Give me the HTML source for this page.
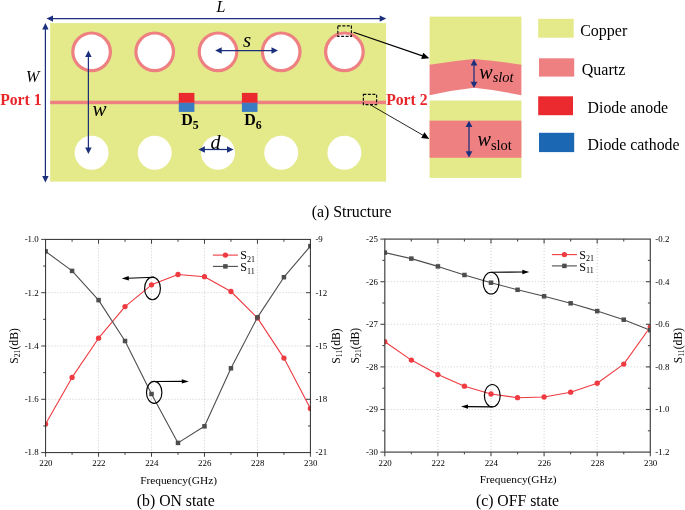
<!DOCTYPE html>
<html><head><meta charset="utf-8"><title>Figure</title>
<style>
html,body{margin:0;padding:0;background:#fff;}
svg{display:block;font-family:'Liberation Serif', 'DejaVu Serif', serif;}
</style></head>
<body>
<svg width="685" height="510" viewBox="0 0 685 510" font-family='"Liberation Serif", "DejaVu Serif", serif'>
<rect width="685" height="510" fill="#fff"/>
<rect x="50.2" y="23.1" width="335.90" height="158.50" fill="#e4e98a"/>
<rect x="50.2" y="100.7" width="335.90" height="3.5" fill="#ee8082"/>
<circle cx="91.6" cy="51.8" r="20.4" fill="#ee8082"/><circle cx="91.6" cy="51.8" r="17.2" fill="#fff"/>
<circle cx="91.6" cy="152.7" r="17" fill="#fff"/>
<circle cx="154.7" cy="51.8" r="20.4" fill="#ee8082"/><circle cx="154.7" cy="51.8" r="17.2" fill="#fff"/>
<circle cx="154.7" cy="152.7" r="17" fill="#fff"/>
<circle cx="218.0" cy="51.8" r="20.4" fill="#ee8082"/><circle cx="218.0" cy="51.8" r="17.2" fill="#fff"/>
<circle cx="218.0" cy="152.7" r="17" fill="#fff"/>
<circle cx="281.2" cy="51.8" r="20.4" fill="#ee8082"/><circle cx="281.2" cy="51.8" r="17.2" fill="#fff"/>
<circle cx="281.2" cy="152.7" r="17" fill="#fff"/>
<circle cx="344.4" cy="51.8" r="20.4" fill="#ee8082"/><circle cx="344.4" cy="51.8" r="17.2" fill="#fff"/>
<circle cx="344.4" cy="152.7" r="17" fill="#fff"/>
<rect x="178.8" y="92.9" width="15.6" height="9.9" fill="#ea2a2e"/>
<rect x="178.8" y="102.8" width="15.6" height="9.1" fill="#3a7cc4"/>
<rect x="241.9" y="92.9" width="15.6" height="9.9" fill="#ea2a2e"/>
<rect x="241.9" y="102.8" width="15.6" height="9.1" fill="#3a7cc4"/>
<text x="181.30" y="125.30" font-size="16" font-weight="bold">D<tspan font-size="11.8" dy="3.6">5</tspan></text>
<text x="244.30" y="125.30" font-size="16" font-weight="bold">D<tspan font-size="11.8" dy="3.6">6</tspan></text>
<line x1="52.00" y1="18.60" x2="380.70" y2="18.60" stroke="#1b2f7c" stroke-width="1.25"/><polygon points="46.50,18.60 53.00,15.40 53.00,21.80" fill="#1b2f7c"/><polygon points="386.20,18.60 379.70,15.40 379.70,21.80" fill="#1b2f7c"/>
<line x1="45.40" y1="28.50" x2="45.40" y2="176.90" stroke="#1b2f7c" stroke-width="1.25"/><polygon points="45.40,23.00 42.20,29.50 48.60,29.50" fill="#1b2f7c"/><polygon points="45.40,182.40 42.20,175.90 48.60,175.90" fill="#1b2f7c"/>
<line x1="220.70" y1="50.50" x2="272.50" y2="50.50" stroke="#1b2f7c" stroke-width="1.25"/><polygon points="215.20,50.50 221.70,47.30 221.70,53.70" fill="#1b2f7c"/><polygon points="278.00,50.50 271.50,47.30 271.50,53.70" fill="#1b2f7c"/>
<line x1="88.40" y1="55.90" x2="88.40" y2="148.50" stroke="#1b2f7c" stroke-width="1.25"/><polygon points="88.40,50.40 85.20,56.90 91.60,56.90" fill="#1b2f7c"/><polygon points="88.40,154.00 85.20,147.50 91.60,147.50" fill="#1b2f7c"/>
<line x1="203.90" y1="149.50" x2="228.00" y2="149.50" stroke="#1b2f7c" stroke-width="1.25"/><polygon points="198.40,149.50 204.90,146.30 204.90,152.70" fill="#1b2f7c"/><polygon points="233.50,149.50 227.00,146.30 227.00,152.70" fill="#1b2f7c"/>
<text x="216.50" y="11.50" font-size="16" font-style="italic">L</text>
<text x="26.00" y="82.30" font-size="16" font-style="italic">W</text>
<text x="243.00" y="47.20" font-size="21" font-style="italic">s</text>
<text x="92.50" y="116.30" font-size="21" font-style="italic">w</text>
<text x="210.50" y="148.50" font-size="20" font-style="italic">d</text>
<text x="0.20" y="104.70" font-size="15.7" font-weight="bold" fill="#e8262a">Port 1</text>
<text x="386.20" y="104.70" font-size="15.7" font-weight="bold" fill="#e8262a">Port 2</text>
<rect x="337.8" y="25.8" width="13.6" height="10.6" fill="none" stroke="#111" stroke-width="1.2" stroke-dasharray="3 1.5"/>
<rect x="363.4" y="94.4" width="13.2" height="10.2" fill="none" stroke="#111" stroke-width="1.2" stroke-dasharray="3 1.5"/>
<line x1="353.50" y1="32.20" x2="423.15" y2="56.18" stroke="#000" stroke-width="1.2"/><polygon points="429.30,58.30 421.17,58.88 423.25,52.83" fill="#000"/>
<line x1="370.30" y1="104.80" x2="423.67" y2="135.65" stroke="#000" stroke-width="0.85"/><polygon points="429.30,138.90 421.16,138.00 424.46,132.29" fill="#000"/>
<rect x="429.6" y="16.6" width="91.80" height="50" fill="#e4e98a"/>
<path d="M429.6,64.8 Q451.8,61 474,59 Q497.7,61 521.4,64.8 L521.4,95.3 Q497.7,90.2 474,87.8 Q451.8,90.2 429.6,95.3 Z" fill="#ee8082"/>
<line x1="474.00" y1="64.50" x2="474.00" y2="82.70" stroke="#1b2f7c" stroke-width="1.25"/><polygon points="474.00,59.20 470.60,65.50 477.40,65.50" fill="#1b2f7c"/><polygon points="474.00,88.00 470.60,81.70 477.40,81.70" fill="#1b2f7c"/>
<text x="479.30" y="79.20" font-size="20" font-style="italic">w<tspan font-size="14.5" dy="3.2">slot</tspan></text>
<rect x="429.6" y="100.5" width="91.80" height="77.4" fill="#e4e98a"/>
<rect x="429.6" y="120.6" width="91.80" height="37.2" fill="#ee8082"/>
<line x1="469.00" y1="126.10" x2="469.00" y2="152.30" stroke="#1b2f7c" stroke-width="1.25"/><polygon points="469.00,120.80 465.60,127.10 472.40,127.10" fill="#1b2f7c"/><polygon points="469.00,157.60 465.60,151.30 472.40,151.30" fill="#1b2f7c"/>
<text x="477.60" y="145.80" font-size="20"><tspan font-style="italic">w</tspan><tspan font-size="14.5" dy="4">slot</tspan></text>
<rect x="538.2" y="18.8" width="35.50" height="18.90" fill="#e4e98a"/>
<rect x="539.0" y="58.3" width="35.20" height="18.30" fill="#ee8082"/>
<rect x="538.2" y="96.3" width="34.80" height="18.90" fill="#ea2a2e"/>
<rect x="539.0" y="132.8" width="35.20" height="19.30" fill="#1c67b4"/>
<text x="580.20" y="35.60" font-size="16.0">Copper</text>
<text x="581.80" y="74.60" font-size="16.0">Quartz</text>
<text x="587.60" y="113.20" font-size="15.85">Diode anode</text>
<text x="587.60" y="149.60" font-size="15.85">Diode cathode</text>
<text x="351.60" y="217.20" font-size="15.9" text-anchor="middle">(a) Structure</text>
<line x1="98.56" y1="239.4" x2="98.56" y2="452.6" stroke="#b0b0b0" stroke-width="0.7" stroke-dasharray="0.9 2.1"/>
<line x1="151.52" y1="239.4" x2="151.52" y2="452.6" stroke="#b0b0b0" stroke-width="0.7" stroke-dasharray="0.9 2.1"/>
<line x1="204.48" y1="239.4" x2="204.48" y2="452.6" stroke="#b0b0b0" stroke-width="0.7" stroke-dasharray="0.9 2.1"/>
<line x1="257.44" y1="239.4" x2="257.44" y2="452.6" stroke="#b0b0b0" stroke-width="0.7" stroke-dasharray="0.9 2.1"/>
<line x1="45.6" y1="292.70" x2="310.4" y2="292.70" stroke="#b0b0b0" stroke-width="0.7" stroke-dasharray="0.9 2.1"/>
<line x1="45.6" y1="346.00" x2="310.4" y2="346.00" stroke="#b0b0b0" stroke-width="0.7" stroke-dasharray="0.9 2.1"/>
<line x1="45.6" y1="399.30" x2="310.4" y2="399.30" stroke="#b0b0b0" stroke-width="0.7" stroke-dasharray="0.9 2.1"/>
<clipPath id="cp45"><rect x="45.0" y="236.4" width="266.00" height="219.20"/></clipPath>
<g clip-path="url(#cp45)">
<polyline points="45.60,424.10 72.08,377.40 98.56,338.20 125.04,306.60 151.52,284.80 178.00,274.50 204.48,276.70 230.96,291.50 257.44,317.90 283.92,358.10 310.40,408.50" fill="none" stroke="#ee3a40" stroke-width="1.1" stroke-linejoin="round"/><circle cx="45.60" cy="424.10" r="2.65" fill="#ee3a40"/><circle cx="72.08" cy="377.40" r="2.65" fill="#ee3a40"/><circle cx="98.56" cy="338.20" r="2.65" fill="#ee3a40"/><circle cx="125.04" cy="306.60" r="2.65" fill="#ee3a40"/><circle cx="151.52" cy="284.80" r="2.65" fill="#ee3a40"/><circle cx="178.00" cy="274.50" r="2.65" fill="#ee3a40"/><circle cx="204.48" cy="276.70" r="2.65" fill="#ee3a40"/><circle cx="230.96" cy="291.50" r="2.65" fill="#ee3a40"/><circle cx="257.44" cy="317.90" r="2.65" fill="#ee3a40"/><circle cx="283.92" cy="358.10" r="2.65" fill="#ee3a40"/><circle cx="310.40" cy="408.50" r="2.65" fill="#ee3a40"/>
<polyline points="45.60,251.40 72.08,270.90 98.56,300.10 125.04,341.00 151.52,394.00 178.00,442.90 204.48,426.30 230.96,368.30 257.44,317.40 283.92,277.20 310.40,246.10" fill="none" stroke="#4d4d4d" stroke-width="1.1" stroke-linejoin="round"/><rect x="43.35" y="249.15" width="4.5" height="4.5" fill="#4d4d4d"/><rect x="69.83" y="268.65" width="4.5" height="4.5" fill="#4d4d4d"/><rect x="96.31" y="297.85" width="4.5" height="4.5" fill="#4d4d4d"/><rect x="122.79" y="338.75" width="4.5" height="4.5" fill="#4d4d4d"/><rect x="149.27" y="391.75" width="4.5" height="4.5" fill="#4d4d4d"/><rect x="175.75" y="440.65" width="4.5" height="4.5" fill="#4d4d4d"/><rect x="202.23" y="424.05" width="4.5" height="4.5" fill="#4d4d4d"/><rect x="228.71" y="366.05" width="4.5" height="4.5" fill="#4d4d4d"/><rect x="255.19" y="315.15" width="4.5" height="4.5" fill="#4d4d4d"/><rect x="281.67" y="274.95" width="4.5" height="4.5" fill="#4d4d4d"/><rect x="308.15" y="243.85" width="4.5" height="4.5" fill="#4d4d4d"/>
</g>
<rect x="45.6" y="239.4" width="264.80" height="213.20" fill="none" stroke="#2b2b2b" stroke-width="1.0"/>
<line x1="45.60" y1="452.6" x2="45.60" y2="456.80" stroke="#2b2b2b" stroke-width="0.90"/>
<text x="45.90" y="466.30" font-size="8.9" text-anchor="middle">220</text>
<line x1="72.08" y1="452.6" x2="72.08" y2="454.80" stroke="#2b2b2b" stroke-width="0.90"/>
<line x1="72.08" y1="239.4" x2="72.08" y2="241.8" stroke="#2b2b2b" stroke-width="0.90"/>
<line x1="98.56" y1="452.6" x2="98.56" y2="456.80" stroke="#2b2b2b" stroke-width="0.90"/>
<line x1="98.56" y1="239.4" x2="98.56" y2="243.8" stroke="#2b2b2b" stroke-width="0.90"/>
<text x="98.86" y="466.30" font-size="8.9" text-anchor="middle">222</text>
<line x1="125.04" y1="452.6" x2="125.04" y2="454.80" stroke="#2b2b2b" stroke-width="0.90"/>
<line x1="125.04" y1="239.4" x2="125.04" y2="241.8" stroke="#2b2b2b" stroke-width="0.90"/>
<line x1="151.52" y1="452.6" x2="151.52" y2="456.80" stroke="#2b2b2b" stroke-width="0.90"/>
<line x1="151.52" y1="239.4" x2="151.52" y2="243.8" stroke="#2b2b2b" stroke-width="0.90"/>
<text x="151.82" y="466.30" font-size="8.9" text-anchor="middle">224</text>
<line x1="178.00" y1="452.6" x2="178.00" y2="454.80" stroke="#2b2b2b" stroke-width="0.90"/>
<line x1="178.00" y1="239.4" x2="178.00" y2="241.8" stroke="#2b2b2b" stroke-width="0.90"/>
<line x1="204.48" y1="452.6" x2="204.48" y2="456.80" stroke="#2b2b2b" stroke-width="0.90"/>
<line x1="204.48" y1="239.4" x2="204.48" y2="243.8" stroke="#2b2b2b" stroke-width="0.90"/>
<text x="204.78" y="466.30" font-size="8.9" text-anchor="middle">226</text>
<line x1="230.96" y1="452.6" x2="230.96" y2="454.80" stroke="#2b2b2b" stroke-width="0.90"/>
<line x1="230.96" y1="239.4" x2="230.96" y2="241.8" stroke="#2b2b2b" stroke-width="0.90"/>
<line x1="257.44" y1="452.6" x2="257.44" y2="456.80" stroke="#2b2b2b" stroke-width="0.90"/>
<line x1="257.44" y1="239.4" x2="257.44" y2="243.8" stroke="#2b2b2b" stroke-width="0.90"/>
<text x="257.74" y="466.30" font-size="8.9" text-anchor="middle">228</text>
<line x1="283.92" y1="452.6" x2="283.92" y2="454.80" stroke="#2b2b2b" stroke-width="0.90"/>
<line x1="283.92" y1="239.4" x2="283.92" y2="241.8" stroke="#2b2b2b" stroke-width="0.90"/>
<line x1="310.40" y1="452.6" x2="310.40" y2="456.80" stroke="#2b2b2b" stroke-width="0.90"/>
<text x="310.70" y="466.30" font-size="8.9" text-anchor="middle">230</text>
<line x1="45.6" y1="239.40" x2="41.2" y2="239.40" stroke="#2b2b2b" stroke-width="0.90"/>
<text x="38.70" y="242.20" font-size="8.9" text-anchor="end">-1.0</text>
<text x="315.40" y="242.20" font-size="8.9">-9</text>
<line x1="45.6" y1="266.05" x2="43.2" y2="266.05" stroke="#2b2b2b" stroke-width="0.90"/>
<line x1="310.4" y1="266.05" x2="308.0" y2="266.05" stroke="#2b2b2b" stroke-width="0.90"/>
<line x1="45.6" y1="292.70" x2="41.2" y2="292.70" stroke="#2b2b2b" stroke-width="0.90"/>
<line x1="310.4" y1="292.70" x2="306.0" y2="292.70" stroke="#2b2b2b" stroke-width="0.90"/>
<text x="38.70" y="295.50" font-size="8.9" text-anchor="end">-1.2</text>
<text x="315.40" y="295.50" font-size="8.9">-12</text>
<line x1="45.6" y1="319.35" x2="43.2" y2="319.35" stroke="#2b2b2b" stroke-width="0.90"/>
<line x1="310.4" y1="319.35" x2="308.0" y2="319.35" stroke="#2b2b2b" stroke-width="0.90"/>
<line x1="45.6" y1="346.00" x2="41.2" y2="346.00" stroke="#2b2b2b" stroke-width="0.90"/>
<line x1="310.4" y1="346.00" x2="306.0" y2="346.00" stroke="#2b2b2b" stroke-width="0.90"/>
<text x="38.70" y="348.80" font-size="8.9" text-anchor="end">-1.4</text>
<text x="315.40" y="348.80" font-size="8.9">-15</text>
<line x1="45.6" y1="372.65" x2="43.2" y2="372.65" stroke="#2b2b2b" stroke-width="0.90"/>
<line x1="310.4" y1="372.65" x2="308.0" y2="372.65" stroke="#2b2b2b" stroke-width="0.90"/>
<line x1="45.6" y1="399.30" x2="41.2" y2="399.30" stroke="#2b2b2b" stroke-width="0.90"/>
<line x1="310.4" y1="399.30" x2="306.0" y2="399.30" stroke="#2b2b2b" stroke-width="0.90"/>
<text x="38.70" y="402.10" font-size="8.9" text-anchor="end">-1.6</text>
<text x="315.40" y="402.10" font-size="8.9">-18</text>
<line x1="45.6" y1="425.95" x2="43.2" y2="425.95" stroke="#2b2b2b" stroke-width="0.90"/>
<line x1="310.4" y1="425.95" x2="308.0" y2="425.95" stroke="#2b2b2b" stroke-width="0.90"/>
<line x1="45.6" y1="452.60" x2="41.2" y2="452.60" stroke="#2b2b2b" stroke-width="0.90"/>
<text x="38.70" y="455.40" font-size="8.9" text-anchor="end">-1.8</text>
<text x="315.40" y="455.40" font-size="8.9">-21</text>
<text transform="translate(17.60,346.00) rotate(-90)" font-size="11.7" text-anchor="middle">S<tspan font-size="7.7" dy="2.3">21</tspan><tspan dy="-2.3">(dB)</tspan></text>
<text transform="translate(339.70,346.00) rotate(-90)" font-size="11.7" text-anchor="middle">S<tspan font-size="7.7" dy="2.3">11</tspan><tspan dy="-2.3">(dB)</tspan></text>
<text x="178.60" y="483.90" font-size="11.35" text-anchor="middle">Frequency(GHz)</text>
<line x1="212.9" y1="255.1" x2="237.9" y2="255.1" stroke="#ee3a40" stroke-width="1.1"/><circle cx="225.4" cy="255.1" r="2.65" fill="#ee3a40"/>
<line x1="212.9" y1="266.4" x2="237.9" y2="266.4" stroke="#4d4d4d" stroke-width="1.1"/><rect x="223.15" y="264.15" width="4.5" height="4.5" fill="#4d4d4d"/>
<text x="240.30" y="259.00" font-size="12">S<tspan font-size="8" dy="2.6">21</tspan></text>
<text x="240.30" y="271.10" font-size="12">S<tspan font-size="8" dy="2.6">11</tspan></text>
<ellipse cx="152.5" cy="288.4" rx="7.9" ry="11.3" fill="none" stroke="#000" stroke-width="1.15"/>
<line x1="154.00" y1="277.20" x2="127.80" y2="278.26" stroke="#000" stroke-width="1.15"/><polygon points="121.80,278.50 128.71,276.02 128.88,280.42" fill="#000"/>
<ellipse cx="154.2" cy="392.4" rx="7.7" ry="11.0" fill="none" stroke="#000" stroke-width="1.15"/>
<line x1="154.50" y1="381.50" x2="182.80" y2="381.42" stroke="#000" stroke-width="1.15"/><polygon points="188.80,381.40 181.81,383.62 181.79,379.22" fill="#000"/>
<text x="175.80" y="505.60" font-size="15.75" text-anchor="middle">(b) ON state</text>
<line x1="437.90" y1="239.1" x2="437.90" y2="452.1" stroke="#b0b0b0" stroke-width="0.7" stroke-dasharray="0.9 2.1"/>
<line x1="491.00" y1="239.1" x2="491.00" y2="452.1" stroke="#b0b0b0" stroke-width="0.7" stroke-dasharray="0.9 2.1"/>
<line x1="544.10" y1="239.1" x2="544.10" y2="452.1" stroke="#b0b0b0" stroke-width="0.7" stroke-dasharray="0.9 2.1"/>
<line x1="597.20" y1="239.1" x2="597.20" y2="452.1" stroke="#b0b0b0" stroke-width="0.7" stroke-dasharray="0.9 2.1"/>
<line x1="384.8" y1="281.70" x2="650.3" y2="281.70" stroke="#b0b0b0" stroke-width="0.7" stroke-dasharray="0.9 2.1"/>
<line x1="384.8" y1="324.30" x2="650.3" y2="324.30" stroke="#b0b0b0" stroke-width="0.7" stroke-dasharray="0.9 2.1"/>
<line x1="384.8" y1="366.90" x2="650.3" y2="366.90" stroke="#b0b0b0" stroke-width="0.7" stroke-dasharray="0.9 2.1"/>
<line x1="384.8" y1="409.50" x2="650.3" y2="409.50" stroke="#b0b0b0" stroke-width="0.7" stroke-dasharray="0.9 2.1"/>
<clipPath id="cp384"><rect x="384.2" y="236.1" width="266.70" height="219.00"/></clipPath>
<g clip-path="url(#cp384)">
<polyline points="384.80,341.70 411.35,360.10 437.90,374.60 464.45,386.20 491.00,394.00 517.55,397.70 544.10,397.00 570.65,392.20 597.20,383.20 623.75,364.10 650.30,327.00" fill="none" stroke="#ee3a40" stroke-width="1.1" stroke-linejoin="round"/><circle cx="384.80" cy="341.70" r="2.65" fill="#ee3a40"/><circle cx="411.35" cy="360.10" r="2.65" fill="#ee3a40"/><circle cx="437.90" cy="374.60" r="2.65" fill="#ee3a40"/><circle cx="464.45" cy="386.20" r="2.65" fill="#ee3a40"/><circle cx="491.00" cy="394.00" r="2.65" fill="#ee3a40"/><circle cx="517.55" cy="397.70" r="2.65" fill="#ee3a40"/><circle cx="544.10" cy="397.00" r="2.65" fill="#ee3a40"/><circle cx="570.65" cy="392.20" r="2.65" fill="#ee3a40"/><circle cx="597.20" cy="383.20" r="2.65" fill="#ee3a40"/><circle cx="623.75" cy="364.10" r="2.65" fill="#ee3a40"/><circle cx="650.30" cy="327.00" r="2.65" fill="#ee3a40"/>
<polyline points="384.80,252.60 411.35,258.60 437.90,266.40 464.45,275.00 491.00,282.70 517.55,289.80 544.10,296.30 570.65,303.30 597.20,311.10 623.75,319.70 650.30,330.20" fill="none" stroke="#4d4d4d" stroke-width="1.1" stroke-linejoin="round"/><rect x="382.55" y="250.35" width="4.5" height="4.5" fill="#4d4d4d"/><rect x="409.10" y="256.35" width="4.5" height="4.5" fill="#4d4d4d"/><rect x="435.65" y="264.15" width="4.5" height="4.5" fill="#4d4d4d"/><rect x="462.20" y="272.75" width="4.5" height="4.5" fill="#4d4d4d"/><rect x="488.75" y="280.45" width="4.5" height="4.5" fill="#4d4d4d"/><rect x="515.30" y="287.55" width="4.5" height="4.5" fill="#4d4d4d"/><rect x="541.85" y="294.05" width="4.5" height="4.5" fill="#4d4d4d"/><rect x="568.40" y="301.05" width="4.5" height="4.5" fill="#4d4d4d"/><rect x="594.95" y="308.85" width="4.5" height="4.5" fill="#4d4d4d"/><rect x="621.50" y="317.45" width="4.5" height="4.5" fill="#4d4d4d"/><rect x="648.05" y="327.95" width="4.5" height="4.5" fill="#4d4d4d"/>
</g>
<rect x="384.8" y="239.1" width="265.50" height="213.00" fill="none" stroke="#4a4a4a" stroke-width="1.25"/>
<line x1="384.80" y1="452.1" x2="384.80" y2="456.30" stroke="#4a4a4a" stroke-width="1.12"/>
<text x="385.10" y="465.80" font-size="8.9" text-anchor="middle">220</text>
<line x1="411.35" y1="452.1" x2="411.35" y2="454.30" stroke="#4a4a4a" stroke-width="1.12"/>
<line x1="411.35" y1="239.1" x2="411.35" y2="241.5" stroke="#4a4a4a" stroke-width="1.12"/>
<line x1="437.90" y1="452.1" x2="437.90" y2="456.30" stroke="#4a4a4a" stroke-width="1.12"/>
<line x1="437.90" y1="239.1" x2="437.90" y2="243.5" stroke="#4a4a4a" stroke-width="1.12"/>
<text x="438.20" y="465.80" font-size="8.9" text-anchor="middle">222</text>
<line x1="464.45" y1="452.1" x2="464.45" y2="454.30" stroke="#4a4a4a" stroke-width="1.12"/>
<line x1="464.45" y1="239.1" x2="464.45" y2="241.5" stroke="#4a4a4a" stroke-width="1.12"/>
<line x1="491.00" y1="452.1" x2="491.00" y2="456.30" stroke="#4a4a4a" stroke-width="1.12"/>
<line x1="491.00" y1="239.1" x2="491.00" y2="243.5" stroke="#4a4a4a" stroke-width="1.12"/>
<text x="491.30" y="465.80" font-size="8.9" text-anchor="middle">224</text>
<line x1="517.55" y1="452.1" x2="517.55" y2="454.30" stroke="#4a4a4a" stroke-width="1.12"/>
<line x1="517.55" y1="239.1" x2="517.55" y2="241.5" stroke="#4a4a4a" stroke-width="1.12"/>
<line x1="544.10" y1="452.1" x2="544.10" y2="456.30" stroke="#4a4a4a" stroke-width="1.12"/>
<line x1="544.10" y1="239.1" x2="544.10" y2="243.5" stroke="#4a4a4a" stroke-width="1.12"/>
<text x="544.40" y="465.80" font-size="8.9" text-anchor="middle">226</text>
<line x1="570.65" y1="452.1" x2="570.65" y2="454.30" stroke="#4a4a4a" stroke-width="1.12"/>
<line x1="570.65" y1="239.1" x2="570.65" y2="241.5" stroke="#4a4a4a" stroke-width="1.12"/>
<line x1="597.20" y1="452.1" x2="597.20" y2="456.30" stroke="#4a4a4a" stroke-width="1.12"/>
<line x1="597.20" y1="239.1" x2="597.20" y2="243.5" stroke="#4a4a4a" stroke-width="1.12"/>
<text x="597.50" y="465.80" font-size="8.9" text-anchor="middle">228</text>
<line x1="623.75" y1="452.1" x2="623.75" y2="454.30" stroke="#4a4a4a" stroke-width="1.12"/>
<line x1="623.75" y1="239.1" x2="623.75" y2="241.5" stroke="#4a4a4a" stroke-width="1.12"/>
<line x1="650.30" y1="452.1" x2="650.30" y2="456.30" stroke="#4a4a4a" stroke-width="1.12"/>
<text x="650.60" y="465.80" font-size="8.9" text-anchor="middle">230</text>
<line x1="384.8" y1="239.10" x2="380.40000000000003" y2="239.10" stroke="#4a4a4a" stroke-width="1.12"/>
<text x="377.90" y="241.90" font-size="8.9" text-anchor="end">-25</text>
<text x="655.30" y="241.90" font-size="8.9">-0.2</text>
<line x1="384.8" y1="260.40" x2="382.40000000000003" y2="260.40" stroke="#4a4a4a" stroke-width="1.12"/>
<line x1="650.3" y1="260.40" x2="647.9" y2="260.40" stroke="#4a4a4a" stroke-width="1.12"/>
<line x1="384.8" y1="281.70" x2="380.40000000000003" y2="281.70" stroke="#4a4a4a" stroke-width="1.12"/>
<line x1="650.3" y1="281.70" x2="645.9" y2="281.70" stroke="#4a4a4a" stroke-width="1.12"/>
<text x="377.90" y="284.50" font-size="8.9" text-anchor="end">-26</text>
<text x="655.30" y="284.50" font-size="8.9">-0.4</text>
<line x1="384.8" y1="303.00" x2="382.40000000000003" y2="303.00" stroke="#4a4a4a" stroke-width="1.12"/>
<line x1="650.3" y1="303.00" x2="647.9" y2="303.00" stroke="#4a4a4a" stroke-width="1.12"/>
<line x1="384.8" y1="324.30" x2="380.40000000000003" y2="324.30" stroke="#4a4a4a" stroke-width="1.12"/>
<line x1="650.3" y1="324.30" x2="645.9" y2="324.30" stroke="#4a4a4a" stroke-width="1.12"/>
<text x="377.90" y="327.10" font-size="8.9" text-anchor="end">-27</text>
<text x="655.30" y="327.10" font-size="8.9">-0.6</text>
<line x1="384.8" y1="345.60" x2="382.40000000000003" y2="345.60" stroke="#4a4a4a" stroke-width="1.12"/>
<line x1="650.3" y1="345.60" x2="647.9" y2="345.60" stroke="#4a4a4a" stroke-width="1.12"/>
<line x1="384.8" y1="366.90" x2="380.40000000000003" y2="366.90" stroke="#4a4a4a" stroke-width="1.12"/>
<line x1="650.3" y1="366.90" x2="645.9" y2="366.90" stroke="#4a4a4a" stroke-width="1.12"/>
<text x="377.90" y="369.70" font-size="8.9" text-anchor="end">-28</text>
<text x="655.30" y="369.70" font-size="8.9">-0.8</text>
<line x1="384.8" y1="388.20" x2="382.40000000000003" y2="388.20" stroke="#4a4a4a" stroke-width="1.12"/>
<line x1="650.3" y1="388.20" x2="647.9" y2="388.20" stroke="#4a4a4a" stroke-width="1.12"/>
<line x1="384.8" y1="409.50" x2="380.40000000000003" y2="409.50" stroke="#4a4a4a" stroke-width="1.12"/>
<line x1="650.3" y1="409.50" x2="645.9" y2="409.50" stroke="#4a4a4a" stroke-width="1.12"/>
<text x="377.90" y="412.30" font-size="8.9" text-anchor="end">-29</text>
<text x="655.30" y="412.30" font-size="8.9">-1.0</text>
<line x1="384.8" y1="430.80" x2="382.40000000000003" y2="430.80" stroke="#4a4a4a" stroke-width="1.12"/>
<line x1="650.3" y1="430.80" x2="647.9" y2="430.80" stroke="#4a4a4a" stroke-width="1.12"/>
<line x1="384.8" y1="452.10" x2="380.40000000000003" y2="452.10" stroke="#4a4a4a" stroke-width="1.12"/>
<text x="377.90" y="454.90" font-size="8.9" text-anchor="end">-30</text>
<text x="655.30" y="454.90" font-size="8.9">-1.2</text>
<text transform="translate(359.00,345.60) rotate(-90)" font-size="11.7" text-anchor="middle">S<tspan font-size="7.7" dy="2.3">21</tspan><tspan dy="-2.3">(dB)</tspan></text>
<text transform="translate(681.50,345.60) rotate(-90)" font-size="11.7" text-anchor="middle">S<tspan font-size="7.7" dy="2.3">11</tspan><tspan dy="-2.3">(dB)</tspan></text>
<text x="518.15" y="483.40" font-size="11.35" text-anchor="middle">Frequency(GHz)</text>
<line x1="551.9" y1="254.6" x2="576.9" y2="254.6" stroke="#ee3a40" stroke-width="1.1"/><circle cx="564.4" cy="254.6" r="2.65" fill="#ee3a40"/>
<line x1="551.9" y1="265.9" x2="576.9" y2="265.9" stroke="#4d4d4d" stroke-width="1.1"/><rect x="562.15" y="263.65" width="4.5" height="4.5" fill="#4d4d4d"/>
<text x="579.30" y="258.50" font-size="12">S<tspan font-size="8" dy="2.6">21</tspan></text>
<text x="579.30" y="270.60" font-size="12">S<tspan font-size="8" dy="2.6">11</tspan></text>
<ellipse cx="491.1" cy="283.1" rx="7.9" ry="10.9" fill="none" stroke="#000" stroke-width="1.15"/>
<line x1="491.20" y1="272.30" x2="523.30" y2="272.05" stroke="#000" stroke-width="1.15"/><polygon points="529.30,272.00 522.32,274.26 522.28,269.86" fill="#000"/>
<ellipse cx="492.3" cy="395.7" rx="7.9" ry="11.2" fill="none" stroke="#000" stroke-width="1.15"/>
<line x1="492.50" y1="406.90" x2="467.00" y2="406.58" stroke="#000" stroke-width="1.15"/><polygon points="461.00,406.50 468.03,404.39 467.97,408.79" fill="#000"/>
<text x="517.50" y="505.60" font-size="15.75" text-anchor="middle">(c) OFF state</text>
</svg>
</body></html>
